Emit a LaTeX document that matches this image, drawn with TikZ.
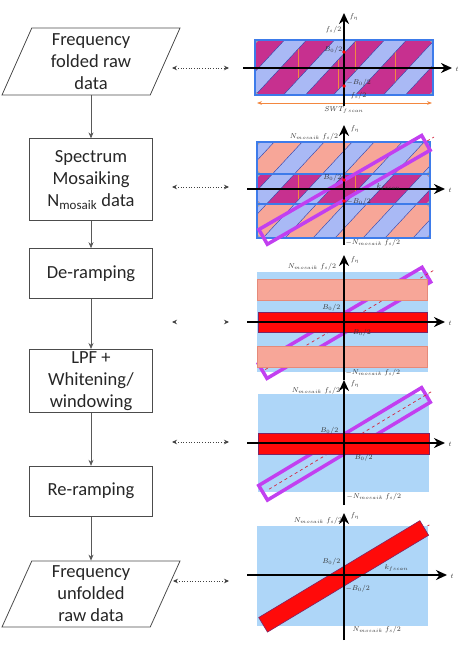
\documentclass[tikz,border=0pt]{standalone}
\usepackage{fontspec}
\setmainfont{Carlito}
\usetikzlibrary{shapes.geometric,arrows.meta,positioning}

\definecolor{magentab}{HTML}{C7308F}
\definecolor{stripeblue}{HTML}{A9B9F5}
\definecolor{stripeedge}{HTML}{2E3FA8}
\definecolor{grayc}{HTML}{A6A6A6}
\definecolor{bordblue}{HTML}{3D7BEA}
\definecolor{salmon}{HTML}{F7A698}
\definecolor{salmonedge}{HTML}{E58A7A}
\definecolor{skyb}{HTML}{AED6F8}
\definecolor{redf}{HTML}{FF0A0A}
\definecolor{rededge}{HTML}{7B2566}
\definecolor{violetf}{HTML}{C23FF0}
\definecolor{dashred}{HTML}{D3243E}
\definecolor{orangel}{HTML}{F3873F}

% striped band: fill colour, x0, y0, x1, y1, extra lines under the stripes
\newcommand{\stripeband}[6]{%
  \fill[grayc] (#2,#3) rectangle (#4,#5);
  \begin{scope}
    \clip[rounded corners=7pt] (#2,#3) rectangle (#4,#5);
    \fill[#1] (#2,#3) rectangle (#4,#5);
    #6
    \foreach \i in {-5,...,5}
      \filldraw[stripe] ({-50.5+50*\i},-70) -- ({-28.5+50*\i},-70) -- ({101.5+50*\i},70) -- ({79.5+50*\i},70) -- cycle;
  \end{scope}
  \draw[bandline] (#2,#3) rectangle (#4,#5);
}

\begin{document}
\begin{tikzpicture}[
    x=1pt, y=1pt,
    font=\fontsize{18.5}{22}\selectfont,
    flowbox/.style={rectangle, draw=black!70, line width=0.8pt, minimum width=123pt, inner sep=0pt, align=center, text=black!85},
    flowio/.style={trapezium, trapezium left angle=62, trapezium right angle=118, trapezium stretches body, draw=black!70, line width=0.8pt, minimum width=178pt, minimum height=67pt, inner sep=0pt, align=center, text=black!85},
    flowarrow/.style={draw=black!65, line width=0.7pt, -{Stealth[length=6pt,width=5pt]}},
    dotarrow/.style={draw=black!75, dotted, line width=0.7pt, {Stealth[length=5pt,width=4.5pt]}-{Stealth[length=5pt,width=4.5pt]}},
    stripe/.style={fill=stripeblue, draw=stripeedge, line width=0.4pt},
    bandline/.style={draw=bordblue, line width=2pt},
    orangeline/.style={draw=orangel, line width=0.5pt},
    axis/.style={line width=2pt, -{Stealth[length=11pt,width=10pt]}},
    frame/.style={draw=violetf, line width=3.5pt},
    dashline/.style={draw=dashred, dashed, line width=0.7pt},
    redband/.style={fill=redf, draw=rededge, line width=0.6pt},
    lbl/.style={font=\fontsize{7}{8}\selectfont, inner sep=0.5pt, text=black!80}
]
    \useasboundingbox (0,0) rectangle (474,-647);

    % flow chart
    \node[flowio] (fold) at (91,-61.5) {Frequency\\folded raw\\data};
    \node[flowbox, minimum height=82pt, below=43pt of fold] (mosaic) {Spectrum\\Mosaiking\\N\textsubscript{mosaik} data};
    \node[flowbox, minimum height=50pt, below=27pt of mosaic] (deramp) {De-ramping};
    \node[flowbox, minimum height=63pt, below=50pt of deramp] (lpf) {LPF +\\Whitening/\\windowing};
    \node[flowbox, minimum height=50pt, below=53pt of lpf] (reramp) {Re-ramping};
    \node[flowio, minimum height=66pt, below=44pt of reramp] (unfold) {Frequency\\unfolded\\raw data};

    \draw[flowarrow] (fold.south) -- (mosaic.north);
    \draw[flowarrow] (mosaic) -- (deramp);
    \draw[flowarrow] (deramp) -- (lpf);
    \draw[flowarrow] (lpf) -- (reramp);
    \draw[flowarrow] (reramp.south) -- (unfold.north);

    % links to the spectra
    \coordinate (l1) at (172,-68);  \coordinate (r1) at (229,-68);
    \coordinate (l2) at (172,-187); \coordinate (r2) at (229,-187);
    \coordinate (l3) at (172,-322); \coordinate (r3) at (229,-322);
    \coordinate (l4) at (172,-442); \coordinate (r4) at (229,-442);
    \coordinate (l5) at (173,-581); \coordinate (r5) at (229,-581);
    \draw[dotarrow] (l1) -- (r1);
    \draw[dotarrow] (l2) -- (r2);
    \draw[dotarrow, dash pattern=on 0pt off 80pt] (l3) -- (r3);
    \draw[dotarrow] (l4) -- (r4);
    \draw[dotarrow] (l5) -- (r5);

    % spectrum 1: folded
    \begin{scope}[shift={(344,-68)}]
        \stripeband{magentab}{-89}{-27}{89}{28}{\foreach \x in {-46,-6,11,51} \draw[orangeline] (\x,-27) -- (\x,28);}
        \draw[orangel, line width=0.8pt, {Stealth[length=5pt]}-{Stealth[length=5pt]}] (-87,-35) -- (88,-35);
        \draw[axis] (-101,0) -- (108,0);
        \draw[axis] (0,-38) -- (0,55);
        \fill[red] (0,16) circle (1.8);
        \fill[red] (0,-18) circle (1.8);
        \node[lbl, anchor=west] (a1f) at (5,51) {$f_\eta$};
        \node[lbl, anchor=west] (a1t) at (111,-1) {$t$};
        \node[lbl, anchor=east] (a1fs) at (-2,38) {$f_s/2$};
        \node[lbl, anchor=east] (a1b) at (-1,18) {$B_0/2$};
        \node[lbl, anchor=west] (a1mb) at (2,-15) {$-B_0/2$};
        \node[lbl, anchor=west] (a1mfs) at (6,-28) {$f_s/2$};
        \node[lbl, fill=white, inner sep=1pt] (a1sw) at (0,-42) {$SWT_{f\,scan}$};
    \end{scope}

    % spectrum 2: mosaicking
    \begin{scope}[shift={(344,-189)}]
        \draw[dashline, rotate=30] (-96,0) -- (104,0);
        \stripeband{salmon}{-87}{15}{86}{47}{}
        \stripeband{magentab}{-87}{-15}{86}{15}{\foreach \x in {-46,11} \draw[orangeline] (\x,-15) -- (\x,15);}
        \stripeband{salmon}{-87}{-49}{86}{-15}{}
        \draw[frame, rotate=30] (-94,-9.5) rectangle (94,7.5);
        \draw[axis] (-97,0) -- (101,0);
        \draw[axis] (0,-56) -- (0,64);
        \fill[red] (0,9) circle (1.8);
        \fill[red] (0,-12) circle (1.8);
        \node[lbl, anchor=west] (a2f) at (6,60) {$f_\eta$};
        \node[lbl, anchor=west] (a2t) at (104,-1) {$t$};
        \node[lbl] (a2n) at (-30,52) {$N_{mosaik}\;f_s/2$};
        \node[lbl, anchor=east] (a2b) at (-2,11) {$B_0/2$};
        \node[lbl, anchor=west] (a2mb) at (2,-13) {$-B_0/2$};
        \node[lbl, anchor=west] (a2k) at (32,2) {$k_{fscan}$};
        \node[lbl, anchor=west] (a2mn) at (1,-54) {$-N_{mosaik}\;f_s/2$};
    \end{scope}

    % spectrum 3: de-ramping
    \begin{scope}[shift={(344,-322)}]
        \fill[skyb] (-87,-50) rectangle (84,50);
        \draw[frame, rotate=30.5] (-95,-9.5) rectangle (95,7.5);
        \draw[dashline, rotate=30.5] (-92,-1) -- (104,-1);
        \filldraw[fill=salmon, draw=salmonedge, line width=0.5pt] (-87,22) rectangle (83,43);
        \filldraw[fill=salmon, draw=salmonedge, line width=0.5pt] (-87,-45) rectangle (83,-24);
        \filldraw[redband] (-86,-10) rectangle (83,10);
        \draw[axis] (-97,0) -- (101,0);
        \draw[axis] (0,-58) -- (0,67);
        \node[lbl, anchor=west] (a3f) at (6,62) {$f_\eta$};
        \node[lbl, anchor=west] (a3t) at (104,-1) {$t$};
        \node[lbl] (a3n) at (-32,55) {$N_{mosaik}\;f_s/2$};
        \node[lbl, anchor=east] (a3b) at (-3,14) {$B_0/2$};
        \node[lbl, anchor=west] (a3mb) at (2,-11) {$-B_0/2$};
        \node[lbl, anchor=west] (a3mn) at (1,-51) {$-N_{mosaik}\;f_s/2$};
    \end{scope}

    % spectrum 4: filtering
    \begin{scope}[shift={(344,-443)}]
        \fill[skyb] (-86,-49) rectangle (85,49);
        \draw[frame, rotate=31] (-95,-9.5) rectangle (95,7.5);
        \draw[dashline, rotate=31] (-88,-1) -- (104,-1);
        \filldraw[redband] (-86,-11) rectangle (85,10);
        \draw[axis] (-97,0) -- (101,0);
        \draw[axis] (0,-62) -- (0,63);
        \node[lbl, anchor=west] (a4f) at (6,59) {$f_\eta$};
        \node[lbl, anchor=west] (a4t) at (104,-1) {$t$};
        \node[lbl] (a4n) at (-28,52) {$N_{mosaik}\;f_s/2$};
        \node[lbl, anchor=east] (a4b) at (-5,12) {$B_0/2$};
        \node[lbl, anchor=west] (a4mb) at (10,-15) {$B_0/2$};
        \node[lbl, anchor=west] (a4mn) at (2,-54) {$-N_{mosaik}\;f_s/2$};
    \end{scope}

    % spectrum 5: re-ramping
    \begin{scope}[shift={(344,-575)}]
        \draw[dashline, rotate=31] (-90,-1) -- (101,-1);
        \fill[skyb] (-87,-51) rectangle (84,49);
        \filldraw[redband, rotate=31] (-95,-9.5) rectangle (93,7.5);
        \draw[axis] (-97,0) -- (103,0);
        \draw[axis] (0,-65) -- (0,62);
        \node[lbl, anchor=west] (a5f) at (6,59) {$f_\eta$};
        \node[lbl, anchor=west] (a5t) at (106,-1) {$t$};
        \node[lbl] (a5n) at (-26,54) {$N_{mosaik}\;f_s/2$};
        \node[lbl, anchor=east] (a5b) at (-3,13) {$B_0/2$};
        \node[lbl, anchor=west] (a5mb) at (1,-14) {$-B_0/2$};
        \node[lbl, anchor=west] (a5k) at (40,7) {$k_{fscan}$};
        \node[lbl, anchor=west] (a5mn) at (8,-55) {$N_{mosaik}\;f_s/2$};
    \end{scope}
\end{tikzpicture}
\end{document}
